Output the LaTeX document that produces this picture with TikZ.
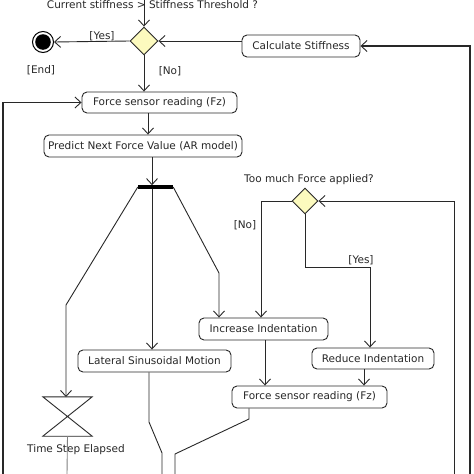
\documentclass[tikz,border=0pt]{standalone}
\usepackage{fontspec}
\setmainfont{DejaVu Sans}
\usetikzlibrary{arrows.meta,shapes.geometric}
\definecolor{ink}{RGB}{40,40,40}
\definecolor{txt}{RGB}{40,40,40}
\definecolor{decfill}{RGB}{252,250,190}
\tikzset{
  act/.style={draw=ink, line width=0.9pt, rounded corners=5pt, fill=white, text=txt,
    inner sep=0pt, font=\fontsize{10.5}{12}\selectfont},
  dec/.style={diamond, draw=ink, line width=0.9pt, fill=decfill, inner sep=0pt, aspect=1},
  lbl/.style={text=txt, inner sep=0pt, font=\fontsize{10.5}{12}\selectfont},
  flow/.style={draw=ink, line width=0.9pt},
  arr/.style={flow, -{Straight Barb[length=6pt,width=11pt,line width=0.9pt]}},
}
\begin{document}
\begin{tikzpicture}[x=1pt,y=-1pt]
\useasboundingbox (0,0) rectangle (474,474);
\fill[white] (0,0) rectangle (474,474);

% nodes
\node[lbl, anchor=base] (qtop) at (152.5,8) {Current stiffness > Stiffness Threshold ?};
\node[dec, minimum width=28pt, minimum height=28pt] (d1) at (144,41) {};
\node[circle, draw=black, line width=1pt, fill=white, minimum size=21pt, inner sep=0pt] (end) at (43,42) {};
\fill[black] (end.center) circle (7.8pt);
\node[lbl] (yes1) at (102,36) {[Yes]};
\node[lbl] (endl) at (41,70) {[End]};
\node[lbl] (no1) at (170,71) {[No]};
\node[act, minimum width=118pt, minimum height=22pt] (calc) at (301,46) {Calculate Stiffness};
\node[act, minimum width=155pt, minimum height=21pt] (fsr1) at (159.5,102.5) {Force sensor reading (Fz)};
\node[act, minimum width=198pt, minimum height=22pt] (pred) at (143,146) {Predict Next Force Value (AR model)};
\node[fill=black, minimum width=35pt, minimum height=3.2pt, inner sep=0pt] (fork) at (155.5,187) {};
\node[act, minimum width=153pt, minimum height=22pt] (lat) at (154.5,361) {Lateral Sinusoidal Motion};
\node[act, minimum width=129pt, minimum height=22pt] (inc) at (263.5,329) {Increase Indentation};
\node[act, minimum width=122pt, minimum height=21pt] (red) at (373,358.5) {Reduce Indentation};
\node[act, minimum width=155pt, minimum height=22pt] (fsr2) at (309.5,397) {Force sensor reading (Fz)};
\node[dec, minimum width=26pt, minimum height=26pt] (d2) at (305,201) {};
\node[lbl] (qmid) at (309,180) {Too much Force applied?};
\node[lbl] (no2) at (245,225) {[No]};
\node[lbl] (yes2) at (361,260) {[Yes]};
\node[minimum width=49pt, minimum height=39pt, inner sep=0pt] (hg) at (67.5,416.5) {};
\draw[flow] (hg.north west) -- (hg.north east) -- (hg.south west) -- (hg.south east) -- cycle;
\node[lbl] (tse) at (76,450) {Time Step Elapsed};

% free ends
\coordinate (topin) at (144,0);
\coordinate (lbot) at (3,474);
\coordinate (rbot) at (470,474);
\coordinate (ibot) at (454,474);
\coordinate (hgbot) at (67,474);
\coordinate (latbot) at (162,474);
\coordinate (fsrbot) at (175,474);

% connectors
\draw[arr] (topin) -- (d1.north);
\draw[arr] (d1.west) -- (end.east);
\draw[arr] (d1.south) -- (d1.south |- fsr1.north);
\draw[arr] (calc.west |- d1.east) -- (d1.east);
\draw[arr, line width=1.1pt] (rbot) |- (calc.east);
\draw[arr, line width=1.5pt] (lbot) |- (fsr1.west);
\draw[arr] ([xshift=-11.5pt]fsr1.south) -- ([xshift=5pt]pred.north);
\draw[arr] ([xshift=9pt]pred.south) -- ([xshift=-3.5pt]fork.north);
\draw[arr] (fork.west) -- (66,305) -- (66,397);
\draw[arr] ([xshift=-3.5pt]fork.south) -- ([xshift=-2.5pt]lat.north);
\draw[arr] (fork.east) -- (219,273) -- ([xshift=-44.5pt]inc.north);
\draw[arr] (d2.west) -| ([xshift=-2.5pt]inc.north);
\draw[arr] (d2.south) -- (305,267) -| ([xshift=-3pt]red.north);
\draw[arr] (ibot) |- (d2.east);
\draw[arr] ([xshift=1.5pt]inc.south) -- ([xshift=-44.5pt]fsr2.north);
\draw[arr] ([xshift=-9pt]red.south) -- ([xshift=54.5pt]fsr2.north);
\draw[flow] ([xshift=-60.5pt]fsr2.south) -- (249,419) -- (175,454) -- (fsrbot);
\draw[flow] ([xshift=-5.5pt]lat.south) -- (149,422) -- (162,453) -- (latbot);
\draw[flow, draw=gray] (hg.south) -- (hgbot);
\end{tikzpicture}
\end{document}
